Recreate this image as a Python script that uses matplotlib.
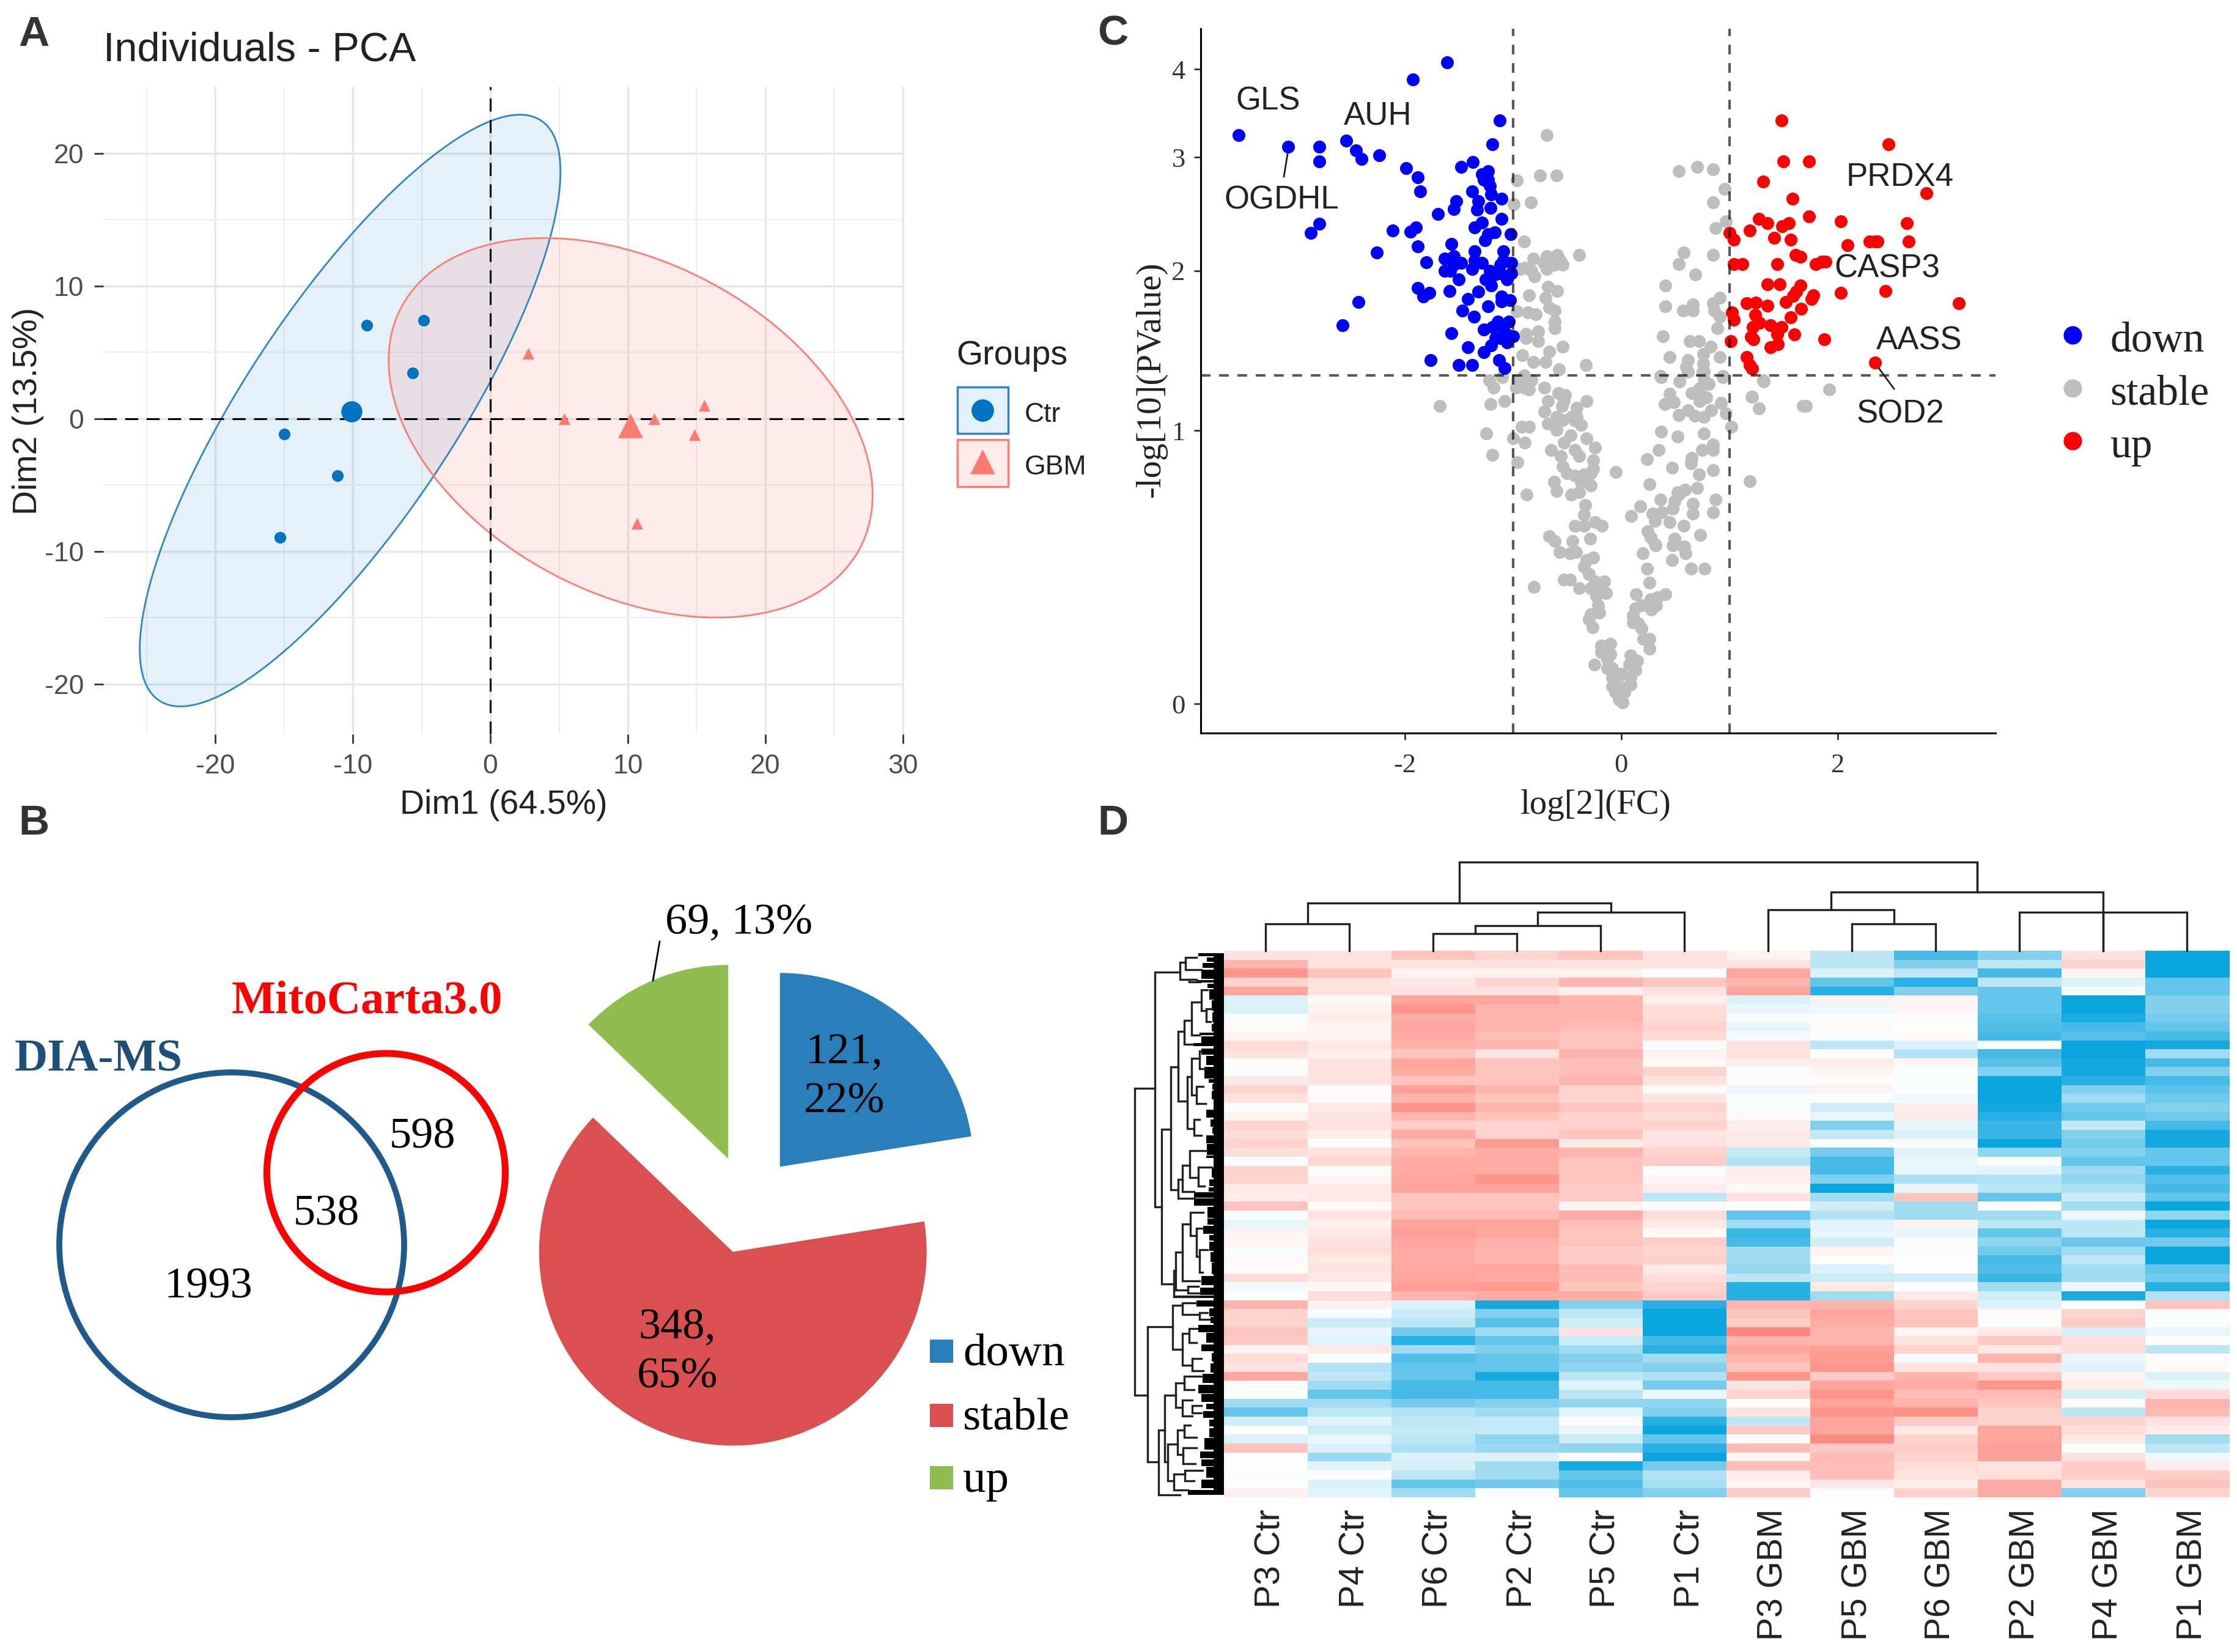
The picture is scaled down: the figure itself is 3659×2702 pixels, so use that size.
import matplotlib
matplotlib.use("Agg")
import matplotlib.pyplot as plt
import numpy as np
from matplotlib.colors import LinearSegmentedColormap
from matplotlib.patches import Circle, Polygon, Rectangle

plt.rcParams["axes.unicode_minus"] = False

W, H = 3659, 2702
SANS = "Liberation Sans"
SERIF = "Liberation Serif"

# panel A: PCA
ctr_x = [-8.98, -4.85, -5.66, -14.97, -11.13, -15.28]
ctr_y = [7.03, 7.39, 3.42, -1.19, -4.29, -8.94]
ctr_mean = (-10.11, 0.52)
gbm_x = [2.77, 5.38, 11.93, 15.56, 14.84, 10.65]
gbm_y = [4.93, -0.04, -0.04, 0.99, -1.22, -7.9]
gbm_mean = (10.19, -0.52)
# centre x, centre y, half width, half height, correlation
ctr_ellipse = (-10.2, 0.6, 15.3, 22.3, 0.807)
gbm_ellipse = (10.2, -0.7, 17.6, 14.3, -0.355)

# panel B: venn and pie
venn_labels = ["1993", "538", "598"]
pie_labels = ["down", "stable", "up"]
pie_counts = [121, 348, 69]
pie_colors = ["#2a7fba", "#da5050", "#90bd4f"]

# panel C: volcano, (log2 FC, -log10 p)
down_points = [
    (-3.54, 3.23), (-3.08, 3.11), (-2.79, 3.11), (-2.79, 2.96), (-2.54, 3.17), (-2.45, 3.07),
    (-2.40, 2.98), (-2.24, 3.02), (-1.99, 2.89), (-1.88, 2.80), (-1.86, 2.67), (-2.79, 2.38),
    (-2.87, 2.30), (-2.115, 2.32), (-1.95, 2.31), (-1.90, 2.345), (-1.695, 2.465), (-1.545, 2.505),
    (-1.525, 2.58), (-1.57, 2.21), (-1.88, 2.19), (-2.26, 2.14), (-1.80, 2.065), (-2.43, 1.77),
    (-2.575, 1.61), (-1.76, 1.39), (-1.505, 1.36), (-1.38, 1.36), (-1.57, 1.56), (-1.42, 1.47),
    (-1.27, 1.44), (-1.13, 1.39), (-1.08, 1.345), (-1.27, 1.585), (-1.36, 1.67), (-1.47, 1.71),
    (-1.42, 1.79), (-1.23, 1.74), (-1.59, 1.85), (-1.88, 1.87), (-1.83, 1.81), (-1.775, 1.835),
    (-1.105, 1.81), (-1.03, 1.785), (-1.105, 1.775), (-1.14, 1.635), (-1.04, 1.635), (-1.09, 1.585),
    (-1.03, 1.545), (-1.0, 1.54), (-1.165, 1.53), (-1.055, 1.50), (-1.205, 1.48), (-1.117, 1.53),
    (-1.19, 1.6), (-1.63, 2.095), (-1.545, 2.11), (-1.63, 2.0), (-1.545, 2.045), (-1.48, 2.06),
    (-1.58, 2.0), (-1.505, 1.935), (-1.355, 2.15), (-1.355, 2.08), (-1.38, 2.01), (-1.29, 2.06),
    (-1.255, 1.935), (-1.32, 1.845), (-1.205, 1.89), (-1.217, 2.0), (-1.167, 1.97), (-1.117, 2.045),
    (-1.09, 2.15), (-1.09, 2.08), (-1.016, 2.06), (-1.016, 1.98), (-1.054, 1.935), (-1.117, 1.98),
    (-1.125, 3.39), (-1.19, 3.13), (-1.375, 2.95), (-1.48, 2.90), (-1.23, 2.86), (-1.29, 2.83),
    (-1.23, 2.78), (-1.27, 2.78), (-1.217, 2.72), (-1.205, 2.64), (-1.38, 2.67), (-1.32, 2.58),
    (-1.105, 2.60), (-1.335, 2.50), (-1.21, 2.52), (-1.105, 2.42), (-1.29, 2.39), (-1.355, 2.345),
    (-1.167, 2.305), (-1.23, 2.29), (-1.26, 2.24), (-1.02, 2.29), (-1.61, 4.09), (-1.925, 3.87),
]
up_points = [
    (1.48, 3.39), (2.47, 3.13), (1.50, 2.96), (1.735, 2.96), (1.31, 2.76), (2.82, 2.65),
    (1.585, 2.60), (1.735, 2.44), (1.27, 2.42), (1.35, 2.385), (1.55, 2.385), (1.49, 2.36),
    (2.03, 2.40), (2.64, 2.385), (1.19, 2.32), (1.0, 2.30), (1.04, 2.245), (1.415, 2.26),
    (1.565, 2.245), (2.66, 2.23), (2.09, 2.20), (2.295, 2.23), (2.345, 2.23), (2.37, 2.23),
    (1.61, 2.12), (1.655, 2.105), (1.80, 2.05), (1.855, 2.07), (1.89, 2.07), (1.04, 2.05),
    (1.12, 2.05), (1.44, 2.05), (1.35, 1.90), (1.465, 1.90), (1.655, 1.89), (1.62, 1.845),
    (1.59, 1.815), (1.775, 1.82), (1.76, 1.79), (2.03, 1.835), (2.445, 1.85), (3.12, 1.76),
    (1.52, 1.77), (1.665, 1.725), (1.16, 1.76), (1.245, 1.765), (1.35, 1.745), (1.025, 1.70),
    (1.04, 1.65), (1.24, 1.68), (1.565, 1.665), (1.28, 1.63), (1.215, 1.60), (1.38, 1.61),
    (1.48, 1.60), (1.20, 1.535), (1.44, 1.55), (1.60, 1.55), (1.88, 1.52), (1.01, 1.51),
    (1.45, 1.49), (1.38, 1.47), (1.16, 1.41), (1.19, 1.36), (2.345, 1.375), (1.22, 1.52),
    (1.21, 1.34),
]
stable_points = [
    (-1.68, 1.13), (-1.21, 1.14), (-1.08, 1.155), (-1.22, 1.27), (-1.18, 1.23), (-1.10, 1.29),
    (-0.96, 1.27), (-0.895, 1.30), (-0.83, 1.27), (-0.97, 1.23), (-0.895, 1.23), (-0.85, 1.22),
    (-0.71, 1.23), (-0.58, 1.20), (-0.52, 1.19), (-0.68, 1.155), (-0.53, 1.16), (-0.55, 1.13),
    (-0.71, 1.10), (-0.32, 1.155), (-0.41, 1.12), (-0.60, 1.07), (-0.46, 1.07), (-0.41, 1.07),
    (-0.54, 1.055), (-0.68, 1.035), (-0.60, 1.03), (-0.60, 1.005), (-0.37, 1.03), (-0.43, 1.05),
    (-0.92, 1.02), (-0.85, 1.02), (-1.25, 0.985), (-1.0, 0.96), (-0.89, 0.94), (-1.19, 0.88),
    (-0.96, 0.845), (-0.875, 0.70), (-0.47, 0.975), (-0.53, 0.94), (-0.32, 0.96), (-0.65, 0.905),
    (-0.43, 0.905), (-0.56, 0.875), (-0.39, 0.875), (-0.24, 0.915), (-0.26, 0.855), (-0.54, 0.825),
    (-0.26, 0.815), (-0.50, 0.795), (-0.43, 0.785), (-0.345, 0.79), (-0.28, 0.795), (-0.37, 0.755),
    (-0.32, 0.765), (-0.28, 0.74), (-0.05, 0.80), (-0.62, 0.755), (-0.60, 0.715), (-0.46, 0.70),
    (-0.39, 0.71), (-0.335, 0.655), (-0.345, 0.615), (-0.43, 0.57), (-0.345, 0.57), (-0.24, 0.585),
    (-0.18, 0.57), (-0.665, 0.53), (-0.615, 0.51), (-0.45, 0.51), (-0.285, 0.52),
    (0.37, 1.29), (0.54, 1.265), (0.615, 1.32), (0.765, 1.32), (0.765, 1.275), (0.94, 1.29),
    (0.81, 1.25), (1.32, 1.265), (1.21, 1.18), (1.27, 1.115), (1.68, 1.13), (0.65, 1.20),
    (0.725, 1.225), (0.45, 1.195), (0.785, 1.175), (0.40, 1.14), (0.485, 1.15), (0.725, 1.155),
    (0.92, 1.145), (0.535, 1.08), (0.615, 1.105), (0.68, 1.075), (0.765, 1.07), (0.83, 1.105),
    (0.97, 1.09), (1.02, 1.02), (0.37, 0.995), (0.52, 0.97), (0.765, 0.985), (0.345, 0.905),
    (0.745, 0.905), (0.85, 0.93), (0.85, 0.905), (0.24, 0.86), (0.65, 0.865), (0.645, 0.84),
    (0.47, 0.82), (0.85, 0.808), (0.72, 0.79), (1.19, 0.76), (0.26, 0.745), (0.70, 0.73),
    (0.52, 0.71), (0.59, 0.72), (0.53, 0.70), (0.365, 0.68), (0.495, 0.67), (0.87, 0.68),
    (0.665, 0.66), (0.66, 0.62), (0.85, 0.625), (0.175, 0.65), (0.09, 0.61), (0.29, 0.62),
    (0.375, 0.625), (0.475, 0.64), (0.31, 0.59), (0.45, 0.585), (0.575, 0.57), (0.245, 0.55),
    (0.73, 0.535), (0.27, 0.525), (0.49, 0.52), (0.31, 0.50), (0.475, 0.495), (0.585, 0.49),
    (-0.57, 0.47), (-0.475, 0.465), (-0.42, 0.47), (-0.26, 0.45), (-0.32, 0.44), (-0.345, 0.415),
    (-0.30, 0.39), (-0.53, 0.37), (-0.475, 0.37), (-0.81, 0.345), (-0.39, 0.34), (-0.16, 0.365),
    (-0.24, 0.365), (-0.28, 0.34), (-0.195, 0.34), (-0.14, 0.325), (-0.23, 0.315), (-0.215, 0.285),
    (-0.205, 0.26), (-0.28, 0.255), (-0.30, 0.24), (-0.265, 0.215), (0.20, 0.465), (0.24, 0.41),
    (0.47, 0.44), (0.645, 0.41), (0.77, 0.41), (0.595, 0.465), (0.57, 0.49), (0.315, 0.495),
    (0.26, 0.36), (0.135, 0.32), (0.41, 0.32), (0.335, 0.31), (0.27, 0.305), (0.325, 0.285),
    (0.25, 0.285), (0.185, 0.285), (0.13, 0.275), (0.28, 0.27), (0.11, 0.25), (0.11, 0.23),
    (0.16, 0.225), (0.185, 0.21), (0.205, 0.18), (0.26, 0.18), (0.26, 0.15), (-0.185, 0.16),
    (-0.10, 0.165), (-0.185, 0.14), (-0.10, 0.135), (-0.14, 0.14), (-0.13, 0.12), (-0.245, 0.105),
    (0.085, 0.13), (0.15, 0.115), (0.075, 0.105), (0.13, 0.09), (-0.085, 0.095), (-0.13, 0.095),
    (-0.085, 0.07), (0.0, 0.08), (0.085, 0.07), (0.085, 0.05), (-0.085, 0.045), (0.0, 0.045),
    (-0.04, 0.055), (-0.055, 0.03), (0.03, 0.03), (-0.02, 0.012), (0.01, 0.003),
    (-0.69, 3.23), (-0.75, 2.82), (-0.60, 2.82), (-0.965, 2.77), (-0.835, 2.565), (-0.995, 2.55),
    (-0.90, 2.23), (-0.39, 2.12), (-0.59, 2.12), (-0.69, 2.11), (-0.815, 2.095), (-0.89, 2.02),
    (-0.83, 2.0), (-0.80, 1.955), (-0.94, 2.01), (-0.715, 2.06), (-0.64, 2.08), (-0.565, 2.08),
    (-0.54, 2.045), (-0.615, 2.045), (-0.69, 2.01), (-0.68, 1.88), (-0.59, 1.85), (-0.85, 1.82),
    (-0.70, 1.80), (-0.665, 1.73), (-0.615, 1.71), (-0.965, 1.705), (-0.865, 1.70), (-0.79, 1.685),
    (-0.615, 1.635), (-0.615, 1.59), (-0.88, 1.555), (-0.765, 1.57), (-0.765, 1.51), (-0.88, 1.53),
    (-0.54, 1.475), (-0.665, 1.445), (-0.915, 1.42), (-0.815, 1.38), (-0.70, 1.38), (-0.325, 1.36),
    (-0.575, 1.335), (0.535, 2.86), (0.70, 2.90), (0.85, 2.88), (0.955, 2.69), (0.85, 2.565),
    (0.97, 2.40), (0.87, 2.34), (0.577, 2.14), (0.85, 2.12), (0.535, 2.05), (0.685, 1.97),
    (0.41, 1.89), (0.41, 1.74), (0.57, 1.71), (0.66, 1.755), (0.66, 1.71), (0.91, 1.80),
    (0.85, 1.76), (0.86, 1.71), (0.91, 1.67), (0.89, 1.59), (0.385, 1.54), (0.635, 1.51),
    (0.72, 1.51), (0.825, 1.475), (0.76, 1.43), (0.91, 1.41), (0.45, 1.41), (0.615, 1.39),
    (0.76, 1.37), (0.60, 1.35), (0.365, 1.295), (0.75, 1.32), (0.94, 1.295), (1.315, 1.27),
    (1.92, 1.22), (1.205, 1.18), (1.27, 1.115), (1.71, 1.13),
]

# panel D: heatmap, rows top to bottom, columns in the order of col_labels
col_labels = ["P3 Ctr", "P4 Ctr", "P6 Ctr", "P2 Ctr", "P5 Ctr", "P1 Ctr",
              "P3 GBM", "P5 GBM", "P6 GBM", "P2 GBM", "P4 GBM", "P1 GBM"]
heat_upper = [
    [1, 1, 2, 1.5, 2, 1, .5, -1, -3, -2, 1, -4],
    [2.5, 1, 1, 1, 1, 1, 1, -1, -2, -1, 1.5, -4],
    [3.5, 2, .5, .5, .5, 0, 3, -.5, -1, -3, .5, -4],
    [1.5, 1, .8, 1.5, 2.5, 2, 2.5, -2.5, -3.5, -1, -.5, -2.5],
    [3, 1, 1, 1, .7, 1, 3, -3.5, -2, -2.5, 0, -2.5],
    [-.5, .3, 3, 3, 2.5, .7, -.5, .5, .5, -2.5, -4, -2],
    [-.5, .5, 3.5, 2.5, 2.5, 1.2, -.3, -.2, .4, -2.5, -4, -2],
    [0, .7, 2.7, 2.5, 2.5, 1.3, 0, 0, 0, -2.7, -3.7, -2.2],
    [.3, .5, 3, 2.5, 2.3, 1.5, -.3, .3, .1, -2.8, -3, -2.5],
    [.5, .5, 2.8, 2.2, 2, 1.3, -.1, 0, .3, -3, -2.7, -3],
    [1.3, .8, 2.6, 2.5, 2, 0, 1, -1, -.5, 0, -4, -3.8],
    [1, .6, 2, 1, 2.5, .5, 1, .2, -1.2, -3, -4, -1.5],
    [.2, 1, 3, 2, 2.2, .3, .7, .7, .4, -2.7, -3.8, -3],
    [0, 1, 2.8, 2, 2.2, 1.5, 0, .5, 0, -2, -3.8, -2],
    [.8, 1, 2, 2, 2.5, 1, .2, .2, 0, -4, -3.5, -3],
    [1.5, 0, 3.2, 2.5, 1.5, .3, -.2, .5, 0, -4, -2, -2.6],
    [1, .3, 2.5, 2, 1.5, 1, 0, 0, -.1, -4, -1.5, -2.3],
    [0, .8, 3.5, 2.5, 2, 1.5, 0, -.7, .7, -3.8, -2.3, -2],
    [.5, 1, 2.5, 2, 1.5, 1.3, .3, -.3, .8, -3.5, -2.5, -2.3],
    [1.5, 1, 1.7, 1.5, 1.6, 1.5, .7, -2, -.3, -3.2, -.9, -3],
    [1.2, .7, 2.8, 1.5, 2, .9, .8, -.9, -.5, -3.2, -2, -3.8],
    [1.5, 0, 2, 3.3, .8, 1, .8, 0, 0, -4, -2.2, -3.8],
    [1.2, 1, 2.5, 2.7, 2.5, 1.5, -.9, -2.2, -.4, -1.8, -2, -2.5],
    [0, 1.4, 2.8, 2.8, 2, 1.7, -1.2, -3, -.3, 0, -2.5, -2.5],
    [1.5, 0, 2.8, 2.7, 2, .1, .7, -3, -.3, -.4, -1.5, -3.5],
    [1.5, .5, 3, 3.5, 2, .4, .6, -2, -1.3, -1.2, -1.8, -2.8],
    [.8, .8, 3, 3, 1.7, .7, .3, -4, -.3, -1, -1.3, -3],
    [.7, .8, 2, 2, 1.8, -1, 1, -1.5, 2, -2.5, -.8, -2.5],
    [2, .3, 2, 2, .5, .3, .2, -.7, -1.5, .1, -1.5, -4],
    [0, 1, 2.3, 2.3, 2.8, 1.2, -2.5, -1.2, -1.5, -1.5, -.2, -1.8],
    [-.3, .6, 3, 3, 2.2, .8, -1.5, -.4, .5, -1, -1, -4],
]
heat_lower = [
    [.5, .8, 3.2, 3, 2, .3, -3.2, -.3, -.3, -2.5, -1, -3.5],
    [.4, 1, 3, 2.6, 2, 1.7, -3, -.7, 0, -1.8, -2.4, -2.3],
    [0, 1.2, 2.8, 2.5, 1.7, 1.5, -1.5, .5, 0, -2.3, -1.5, -4],
    [.3, .8, 2.8, 2.5, 1.7, 1.6, -1.5, .2, .1, -3, -1, -4],
    [.2, 1, 2.9, 3, 2.3, .8, -1.7, -.5, .2, -2.8, -1.5, -2.5],
    [1.2, .8, 3, 2.8, 2.3, 1.2, -1, -.8, -.7, -3.2, -1.5, -2.3],
    [-.1, .4, 3.2, 3.3, 2, 1.5, -3.5, .8, 0, -1.5, -.2, -3.5],
    [.1, 1.2, 2.5, 2.8, 2.7, 1.8, -3.5, -1.5, .8, -.7, -3.7, -1.2],
    [2.5, .6, -.5, -3.8, -2, -3.5, 2.5, 2.5, 1.5, -.5, 0, 2],
    [1.5, 0, -.8, -2, -1, -4, 2, 3, 2, .3, 1.5, 0],
    [1.5, -.8, -1, -2.7, -.7, -4, 1.7, 2.8, 2, 0, 1.8, .1],
    [2, -.3, -2.2, -1.5, 1, -4, 4, 2.5, .5, .8, -.6, -.3],
    [1.8, -.4, -3.5, -2.5, -.8, -3, 2.5, 2.5, 1, 1.8, 1.2, .1],
    [.5, .8, -1.5, -2, -1.5, -3.5, 3, 3.2, 1.5, .8, 1.2, -1],
    [1.3, 0, -2.8, -2.5, -2, -1.5, 2.5, 3.3, 0, 2.5, -.3, .2],
    [1, -1.2, -2.5, -2.5, -1.8, -2, 2, 3.5, 1, 1, -.4, .3],
    [3, -1, -2.5, -3.8, -1, -1.2, 3.5, 1.8, 2.5, 1.8, .5, -.5],
    [.3, -1.5, -3, -3, -.4, -2.2, 1, 3, 2.8, 3.5, .7, -.2],
    [0, -2.5, -3, -3, -1, -.2, 1.5, 3.5, 2.2, 2.3, -.6, 1.3],
    [-1.5, -1.5, -2.2, -2, -1.8, -1.8, .2, 3, 2.5, 2, .2, 2.5],
    [-2.5, -1, -1.2, -1.5, -.4, -2, 1, 3.5, 3.7, 1.5, -1, 2.3],
    [-.7, -.4, -1, -.9, 0, -3.5, -1, 3, 1.8, 1.5, 1.5, 1],
    [.2, -.8, -.9, -.9, -.3, -4, 1.8, 3, .8, 3, 1.2, .7],
    [-.5, -.3, -1, -1.8, -.8, -2.5, .1, 3.8, 1.5, 3, .8, -1.5],
    [2, -.5, -1.3, -1.6, -1.8, -3.5, 2.3, 1.8, 1.7, 3.2, 0, -1],
    [.1, -1.6, -.5, -.5, .1, -4, .4, 2.3, 1.5, 3.2, 1, -.2],
    [.1, -.4, -.6, -1.5, -3.8, -2.2, 2.2, 2.2, 1.3, 1, 1.7, .7],
    [0, .1, -1, -1.5, -2.5, -1.2, .7, 2.2, 1, 1.2, 1.7, 1.7],
    [.1, -.5, -2.5, -2.3, -2.8, -1.4, .4, .9, .7, 2.8, 1, 2],
    [.6, -.4, -1.5, 0, -2.5, -2, 1.7, .1, 1.6, 2.8, -2, 1.5],
]
# column tree: left pos, left height, right pos, right height, merge height
col_links = [
    (0, 0, 1, 0, 51), (2, 0, 3, 0, 33), (2.5, 33, 4, 0, 48), (3.25, 48, 5, 0, 73),
    (0.5, 51, 4.125, 73, 90), (7, 0, 8, 0, 51), (6, 0, 7.5, 51, 78), (9, 0, 11, 0, 73),
    (10, 0, 10, 0, 73), (6.75, 78, 10, 73, 111), (2.31, 90, 8.49, 111, 168),
]
# row tree: merge depth, upper row, upper depth, lower row, lower depth
row_links = [
    (18, 400, 118, 1275, 80), (118, 70, 240, 738, 150), (240, 42, 268, 90, 285),
    (268, 28, 320, 62, 345), (285, 90, 320, 97, 340), (150, 517, 195, 958, 210),
    (195, 340, 230, 690, 230), (230, 238, 262, 438, 275), (262, 207, 298, 275, 305),
    (298, 155, 345, 250, 335), (345, 120, 375, 180, 370), (370, 175, 395, 210, 390),
    (275, 368, 298, 515, 310), (298, 315, 335, 420, 320), (335, 295, 345, 345, 360),
    (320, 395, 355, 445, 365), (310, 490, 335, 535, 345), (230, 660, 252, 715, 310),
    (252, 620, 288, 695, 310), (288, 578, 372, 655, 330), (330, 625, 395, 680, 360),
    (210, 920, 220, 995, 330), (220, 868, 252, 975, 280), (252, 788, 290, 950, 335),
    (290, 755, 355, 820, 320), (320, 800, 355, 880, 335), (335, 860, 375, 925, 350),
    (280, 965, 330, 985, 340), (80, 1080, 205, 1465, 135), (205, 1020, 252, 1145, 252),
    (252, 1012, 320, 1045, 335), (335, 1040, 375, 1060, 385), (252, 1100, 285, 1190, 300),
    (285, 1085, 325, 1125, 320), (300, 1170, 345, 1205, 355), (135, 1375, 165, 1560, 240),
    (165, 1275, 220, 1465, 180), (220, 1240, 262, 1310, 252), (262, 1222, 350, 1260, 310),
    (252, 1290, 300, 1335, 300), (300, 1305, 345, 1325, 345), (180, 1415, 228, 1520, 210),
    (228, 1375, 262, 1445, 255), (262, 1360, 290, 1395, 320), (255, 1425, 320, 1470, 315),
    (210, 1500, 265, 1545, 280), (265, 1490, 350, 1520, 310),
]
# leaf bundles of the row tree: top row, bottom row, depth where the bundle starts
row_leaves = [
    (15, 25, 330), (28, 40, 372), (43, 58, 350), (62, 88, 345), (92, 100, 320), (102, 115, 375),
    (118, 148, 385), (150, 180, 395), (185, 212, 400), (218, 238, 395), (242, 250, 335),
    (252, 272, 345), (272, 280, 305), (288, 305, 345), (308, 335, 370), (340, 372, 360),
    (375, 385, 380), (388, 405, 400), (408, 432, 395), (437, 460, 410), (462, 485, 370),
    (490, 510, 390), (513, 530, 400), (535, 558, 370), (560, 590, 372), (592, 600, 370),
    (605, 625, 405), (628, 655, 395), (660, 680, 385), (683, 695, 380), (697, 712, 310),
    (715, 735, 310), (738, 770, 375), (772, 790, 375), (792, 815, 355), (818, 835, 385),
    (838, 865, 385), (868, 895, 390), (898, 930, 395), (935, 962, 345), (968, 990, 340),
    (992, 998, 210), (1005, 1022, 320), (1028, 1050, 385), (1052, 1070, 390), (1075, 1095, 330),
    (1098, 1125, 370), (1130, 1150, 345), (1155, 1180, 395), (1185, 1210, 390), (1215, 1240, 350),
    (1245, 1270, 330), (1272, 1295, 345), (1300, 1315, 370), (1320, 1340, 355), (1345, 1365, 385),
    (1370, 1395, 385), (1398, 1430, 360), (1435, 1455, 340), (1458, 1478, 345), (1480, 1510, 370),
    (1515, 1540, 345), (1545, 1560, 280),
]


def px_axes(fig, left, top, right, bottom, **kwargs):
    return fig.add_axes(
        [left / W, 1 - bottom / H, (right - left) / W, (bottom - top) / H], **kwargs
    )


def label(over, x, y, txt, **kwargs):
    # text sits about 5 px high with va="center", so nudge it down
    kwargs.setdefault("va", "center")
    over.text(x, y + 5, txt, **kwargs)


def ellipse_outline(cx, cy, hx, hy, rho):
    t = np.linspace(0, 2 * np.pi, 200)
    x = cx + hx * np.cos(t)
    y = cy + hy * (rho * np.cos(t) + np.sqrt(1 - rho**2) * np.sin(t))
    return np.column_stack([x, y])


def plot_pca(fig):
    ax = px_axes(fig, 169, 142, 1479, 1201)
    ax.set_xlim(-28.15, 30.1)
    ax.set_ylim(-23.8, 25.0)
    for s in ax.spines.values():
        s.set_visible(False)
    ax.set_xticks([-20, -10, 0, 10, 20, 30])
    ax.set_yticks([-20, -10, 0, 10, 20])
    ax.set_xticks(np.arange(-25, 30, 10), minor=True)
    ax.set_yticks([-15, -5, 5, 15], minor=True)
    ax.grid(which="major", color="#e8e8e8", lw=2.5)
    ax.grid(which="minor", color="#eeeeee", lw=1.5)
    ax.tick_params(which="minor", length=0)
    ax.tick_params(which="major", length=11, width=2, color="#333333", labelcolor="#4d4d4d",
                   labelsize=32, pad=12)
    ax.set_axisbelow(True)
    for item in ax.get_xticklabels() + ax.get_yticklabels():
        item.set_family(SANS)

    ax.add_patch(Polygon(ellipse_outline(*ctr_ellipse), fc="#0073C2", alpha=0.1, ec="none"))
    ax.add_patch(Polygon(ellipse_outline(*gbm_ellipse), fc="#FC6A60", alpha=0.12, ec="none"))
    ax.add_patch(Polygon(ellipse_outline(*ctr_ellipse), fc="none", ec="#2f86c5", lw=2))
    ax.add_patch(Polygon(ellipse_outline(*gbm_ellipse), fc="none", ec="#fb7d75", lw=2))

    ax.axhline(0, color="black", lw=2.2, ls=(0, (7, 4.5)), zorder=3)
    ax.axvline(0, color="black", lw=2.2, ls=(0, (7, 4.5)), zorder=3)
    ax.scatter(ctr_x, ctr_y, s=190, color="#0073C2", lw=0, zorder=4)
    ax.scatter(gbm_x, gbm_y, s=190, marker="^", color="#FC7A70", lw=0, zorder=4)
    ax.scatter(*ctr_mean, s=620, color="#0073C2", lw=0, zorder=4)
    ax.scatter(*gbm_mean, s=850, marker="^", color="#FC7A70", lw=0, zorder=4)


def plot_venn_pie(fig, over):
    over.add_patch(Circle((379, 2036), 282, fc="none", ec="#1f5a8a", lw=7))
    over.add_patch(Circle((631.5, 1918), 195, fc="none", ec="#ff0000", lw=8))
    for txt, x, y in zip(venn_labels, [341, 534, 691], [2100, 1981, 1855]):
        label(over, x, y, txt, family=SERIF, fontsize=52, ha="center")
    label(over, 161, 1729, "DIA-MS", family=SERIF, weight="bold", fontsize=54, color="#1f4e79",
          ha="center")
    label(over, 600, 1634, "MitoCarta3.0", family=SERIF, weight="bold", fontsize=55, color="#ff0000",
          ha="center")

    R = 317
    cx, cy = 1223, 1970
    ax = px_axes(fig, cx - 1.5 * R, cy - 1.5 * R, cx + 1.5 * R, cy + 1.5 * R)
    ax.pie(pie_counts, colors=pie_colors, startangle=90, counterclock=False,
           explode=[0.256] * 3, radius=1)
    ax.set_xlim(-1.5, 1.5)
    ax.set_ylim(-1.5, 1.5)
    ax.axis("off")

    label(over, 1381, 1757, "121,\n22%", family=SERIF, fontsize=52, ha="center", linespacing=1.3)
    label(over, 1108, 2207, "348,\n65%", family=SERIF, fontsize=52, ha="center", linespacing=1.3)
    label(over, 1209, 1505, "69, 13%", family=SERIF, fontsize=52, ha="center")
    over.plot([1079, 1068], [1540, 1604], color="black", lw=2)
    for name, color, y in zip(pie_labels, pie_colors, [2210, 2315, 2417]):
        over.add_patch(Rectangle((1521, y - 19), 38, 38, fc=color, ec="none"))
        label(over, 1575, y, name, family=SERIF, fontsize=54)


def plot_volcano(fig, over):
    ax = px_axes(fig, 1963.6, 47, 3264, 1198.5)
    ax.set_yscale("function", functions=(np.log1p, np.expm1))
    ax.set_xlim(-3.89, 3.46)
    ax.set_ylim(-0.0706, 4.54)
    ax.spines[["top", "right"]].set_visible(False)
    ax.spines[["left", "bottom"]].set_linewidth(2.2)
    ax.set_xticks([-2, 0, 2])
    ax.set_yticks([0, 1, 2, 3, 4])
    ax.tick_params(length=8, width=2, labelsize=32, pad=10, colors="#333333")
    ax.tick_params(axis="x", pad=16)
    for item in ax.get_xticklabels() + ax.get_yticklabels():
        item.set_family(SERIF)

    for pts, color in [(stable_points, "#bebebe"), (down_points, "#0000ff"), (up_points, "#ff0000")]:
        xy = np.array(pts)
        ax.scatter(xy[:, 0], xy[:, 1], s=230, color=color, lw=0, clip_on=False, zorder=2)
    dash = (0, (3.8, 3.4))
    ax.axvline(-1, color="black", alpha=0.65, lw=3, ls=dash, zorder=3)
    ax.axvline(1, color="black", alpha=0.65, lw=3, ls=dash, zorder=3)
    ax.axhline(1.3, color="black", alpha=0.65, lw=3, ls=dash, zorder=3)

    gene_labels = {"GLS": (2074, 161), "AUH": (2254, 184), "OGDHL": (2096, 322), "PRDX4": (3108, 285),
                   "CASP3": (3087, 434), "AASS": (3139, 553), "SOD2": (3108, 672)}
    for gene, (x, y) in gene_labels.items():
        label(over, x, y, gene, family=SANS, fontsize=38, color="#222222", ha="center")
    over.plot([2106, 2100], [252, 289], color="#222222", lw=2)
    over.plot([3073, 3098], [602, 636], color="#222222", lw=2)
    label(over, 2610, 1312, "log[2](FC)", family=SERIF, fontsize=41, color="#222222", ha="center")
    over.text(1883, 620, "-log[10](PValue)", family=SERIF, fontsize=41, color="#222222",
              rotation=90, ha="center", va="center")
    for name, color, y in zip(["down", "stable", "up"], ["#0000ff", "#bebebe", "#ff0000"], [548, 635, 721]):
        over.scatter([3390], [y], s=470, color=color, lw=0)
        label(over, 3451, y + 5, name, family=SERIF, fontsize=50, color="#222222")


def plot_heatmap(fig, over):
    ax = px_axes(fig, 2001.5, 1555, 3646, 2449)
    cmap = LinearSegmentedColormap.from_list("heat", ["#00a1de", "#ffffff", "#ff7b6e"])
    data = np.array(heat_upper + heat_lower)
    ax.imshow(data, cmap=cmap, vmin=-4.2, vmax=4.4, aspect="auto", interpolation="nearest")
    for s in ax.spines.values():
        s.set_visible(False)
    ax.set_xticks([])
    ax.set_yticks([])
    for i, name in enumerate(col_labels):
        over.text(2079 + 137 * i, 2468, name, family=SANS, fontsize=41, color="#222222",
                  rotation=90, ha="center", va="top")

    top = px_axes(fig, 2001.5, 1410, 3646, 1555)
    top.set_xlim(-0.5, 11.5)
    top.set_ylim(0, 168)
    top.axis("off")
    for x1, h1, x2, h2, h in col_links:
        top.plot([x1, x1, x2, x2], [h1, h, h, h2], color="#222222", lw=2.4, clip_on=False,
                 solid_joinstyle="miter")
    # the root drops onto the middle of each child's bar
    top.plot([8.49, 8.49], [111, 168], color="#222222", lw=2.4)

    left = px_axes(fig, 1850, 1550, 2001.5, 2450)
    left.set_xlim(0, 454.5)
    left.set_ylim(1568, 0)
    left.axis("off")
    for x, y1, x1, y2, x2 in row_links:
        left.plot([x1, x, x, x2], [y1, y1, y2, y2], color="#222222", lw=2.4, solid_joinstyle="miter")
    for y1, y2, x in row_leaves:
        left.add_patch(Rectangle((x, y1), 454.5 - x, y2 - y1, fc="black", ec="none"))
    left.add_patch(Rectangle((405, 15), 49.5, 1545, fc="black", ec="none"))


def main():
    fig = plt.figure(figsize=(W / 100, H / 100), dpi=100, facecolor="white")
    over = fig.add_axes([0, 0, 1, 1], zorder=10)
    over.set_xlim(0, W)
    over.set_ylim(H, 0)
    over.axis("off")
    over.patch.set_alpha(0)

    plot_pca(fig)
    plot_venn_pie(fig, over)
    plot_volcano(fig, over)
    plot_heatmap(fig, over)

    # panel A texts and legend
    label(over, 169, 77, "Individuals - PCA", family=SANS, fontsize=48, color="#222222")
    label(over, 824, 1312, "Dim1 (64.5%)", family=SANS, fontsize=40, color="#222222", ha="center")
    over.text(46, 672, "Dim2 (13.5%)", family=SANS, fontsize=40, color="#222222", rotation=90,
              ha="center", va="center")
    label(over, 1564, 577, "Groups", family=SANS, fontsize=40, color="#222222")
    over.add_patch(Rectangle((1566, 633), 83, 76, fc="#e5f1f9", ec="#2f86c5", lw=2.5))
    over.add_patch(Rectangle((1566, 719), 83, 77, fc="#ffecea", ec="#fb7d75", lw=2.5))
    over.scatter([1607], [671], s=700, color="#0073C2", lw=0)
    over.scatter([1607], [755], s=850, marker="^", color="#FC7A70", lw=0)
    label(over, 1676, 673, "Ctr", family=SANS, fontsize=32, color="#222222")
    label(over, 1676, 760, "GBM", family=SANS, fontsize=32, color="#222222")

    for letter, x, y in [("A", 30, 52), ("B", 30, 1342), ("C", 1795, 50), ("D", 1795, 1342)]:
        label(over, x, y, letter, family=SANS, weight="bold", fontsize=50, color="#333333")

    fig.savefig("out.png", dpi=100)
    plt.close(fig)


if __name__ == "__main__":
    main()
